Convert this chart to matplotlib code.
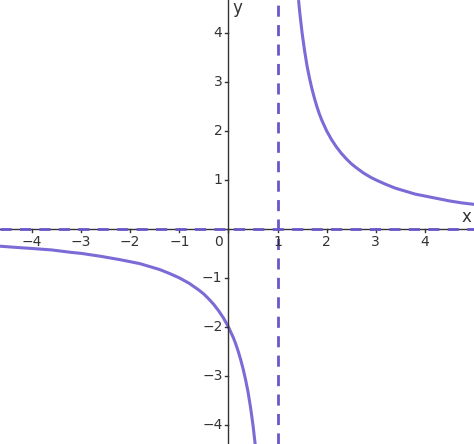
import matplotlib
matplotlib.use("Agg")
import matplotlib.pyplot as plt

right_x = [1.43, 1.45, 1.5, 1.55, 1.6, 1.65, 1.7, 1.75, 1.8, 1.85, 1.9, 1.95, 2.0, 2.1, 2.2, 2.3, 2.4, 2.5, 2.6, 2.75, 2.9, 3.0, 3.2, 3.4, 3.6, 3.8, 4.0, 4.25, 4.5, 4.75, 5.0]
right_y = [4.65, 4.44, 4.0, 3.64, 3.33, 3.08, 2.86, 2.67, 2.5, 2.35, 2.22, 2.11, 2.0, 1.82, 1.67, 1.54, 1.43, 1.33, 1.25, 1.14, 1.05, 1.0, 0.91, 0.83, 0.77, 0.71, 0.67, 0.62, 0.57, 0.53, 0.5]
left_x = [-4.7, -4.3, -4.0, -3.6, -3.2, -3.0, -2.6, -2.2, -2.0, -1.8, -1.6, -1.4, -1.2, -1.0, -0.8, -0.6, -0.5, -0.4, -0.3, -0.2, -0.1, 0.0, 0.05, 0.1, 0.15, 0.2, 0.25, 0.3, 0.35, 0.4, 0.45, 0.5, 0.55]
left_y = [-0.35, -0.38, -0.4, -0.43, -0.48, -0.5, -0.56, -0.63, -0.67, -0.71, -0.77, -0.83, -0.91, -1.0, -1.11, -1.25, -1.33, -1.43, -1.54, -1.67, -1.82, -2.0, -2.11, -2.22, -2.35, -2.5, -2.67, -2.86, -3.08, -3.33, -3.64, -4.0, -4.44]
asym_x = 1
asym_y = 0
xticks = [-4, -3, -2, -1, 0, 1, 2, 3, 4]
yticks = [-4, -3, -2, -1, 1, 2, 3, 4]

curve = "#7a6bd6"
dash = "#6a56c8"

fig = plt.figure(figsize=(4.74, 4.44), dpi=100)
ax = fig.add_axes([0, 0, 1, 1])
ax.set_xlim(-4.65, 5.0)
ax.set_ylim(-4.39, 4.67)
ax.plot(right_x, right_y, color=curve, lw=2.2, solid_capstyle="round", solid_joinstyle="round")
ax.plot(left_x, left_y, color=curve, lw=2.2, solid_capstyle="round", solid_joinstyle="round")
ax.axhline(asym_y, color=dash, lw=2, ls=(0, (4, 3)), zorder=3)
ax.axvline(asym_x, color=dash, lw=2, ls=(0, (4, 3)), zorder=3)

for s in ax.spines.values():
    s.set_visible(False)
ax.plot([-4.65, 5.0], [0, 0], color="#333", lw=1, zorder=2)
ax.plot([0, 0], [-4.39, 4.67], color="#333", lw=1, zorder=2)
ax.set_xticks([]); ax.set_yticks([])
for t in xticks:
    ax.plot([t, t], [0, -0.06], color="#333", lw=1)
    lab = str(t).replace("-", "\u2212")
    ax.text(t if t != 0 else -0.2, -0.12, lab, ha="center", va="top", fontsize=10, color="#333")
for t in yticks:
    ax.plot([0, -0.06], [t, t], color="#333", lw=1)
    lab = str(t).replace("-", "\u2212")
    ax.text(-0.12, t, lab, ha="right", va="center", fontsize=10, color="#333")
ax.text(4.85, 0.05, "x", fontsize=12, ha="center", va="bottom", color="#333")
ax.text(0.08, 4.5, "y", fontsize=12, ha="left", va="center", color="#333")
fig.savefig("out.png", dpi=100)
